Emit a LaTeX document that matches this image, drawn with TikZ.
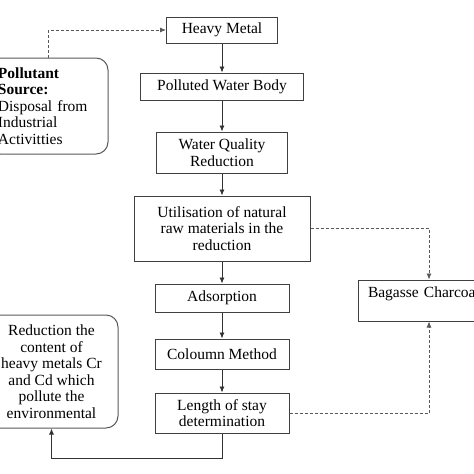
\documentclass[tikz,border=0pt]{standalone}
\usepackage{fontspec}
\setmainfont{Liberation Serif}
\usetikzlibrary{arrows.meta}
\begin{document}
\begin{tikzpicture}[x=1pt,y=-1pt,
        box/.style={
          draw=black!75,line width=1pt,inner sep=2pt,align=center,
          font=\fontsize{15.5}{16.5}\selectfont
        },
        soft/.style={
          box,draw=black!65,rounded corners=12pt
        },
        flow/.style={
          draw=black!80,line width=.8pt,-{Latex[length=6pt,width=5pt]}
        },
        link/.style={
          draw=black!65,line width=.8pt,dash pattern=on 3pt off 2pt,-{Latex[length=6pt,width=5pt]}
        }
      ]
      \useasboundingbox (0,0) rectangle (474,474);
      \clip (0,0) rectangle (474,474);
      \node [box,minimum width=111,minimum height=26] (hm) at (222,30) {Heavy Metal};
      \node [box,minimum width=163,minimum height=27] (pw) at (222,86.5) {Polluted Water Body};
      \node [box,minimum width=131,minimum height=41] (wq) at (222,152.5) {Water Quality\\Reduction};
      \node [box,minimum width=176,minimum height=65] (ut) at (222,228.5) {Utilisation of natural\\raw materials in the\\reduction};
      \node [box,minimum width=134,minimum height=28] (ad) at (222,298) {Adsorption};
      \node [box,minimum width=134,minimum height=30] (cm) at (222,354) {Coloumn Method};
      \node [box,minimum width=134,minimum height=40] (ls) at (222,413) {Length of stay\\determination};
      \node [box,align=left,text width=122,inner xsep=10,inner ysep=3,text height=14,text depth=21] (bc) at (429,300.5) {Bagasse Charcoal};
      \node [soft,align=left,text width=100,inner xsep=10,minimum height=96] (ps) at (48,106) {\textbf{Pollutant}\\\textbf{Source:}\\Disposal from\\Industrial\\Activitties};
      \node [soft,minimum width=133,minimum height=113] (rd) at (51.5,371.5) {Reduction the\\content of\\heavy metals Cr\\and Cd which\\pollute the\\environmental};
      \draw [link] (ps.north) |- (hm.west);
      \draw [flow] (hm) -- (pw);
      \draw [flow] (pw) -- (wq);
      \draw [flow] (wq) -- (ut);
      \draw [flow] (ut) -- (ad);
      \draw [flow] (ad) -- (cm);
      \draw [flow] (cm) -- (ls);
      \draw [link] (ut.east) -| (bc.north);
      \draw [link] (ls.east) -| (bc.south);
      \draw [flow] (ls.south) -- ++(0,25) -| (rd.south);
    \end{tikzpicture}
\end{document}
